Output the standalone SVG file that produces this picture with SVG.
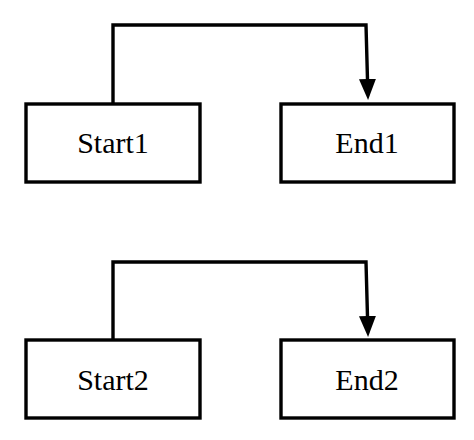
<svg xmlns="http://www.w3.org/2000/svg" width="474" height="440" viewBox="0 0 474 440">
<defs>
<marker id="arr" markerWidth="21" markerHeight="17" refX="1" refY="8.5" viewBox="0 0 21 17" markerUnits="userSpaceOnUse" orient="auto">
<path d="M0,0 L21,8.5 L0,17 Z" fill="#000"/>
</marker>
<style>
.box{fill:#fff;stroke:#000;stroke-width:3.4}
.lbl{font-family:"Liberation Serif","DejaVu Serif",serif;font-size:30px;fill:#000;text-anchor:middle}
.conn{fill:none;stroke:#000;stroke-width:3.4}
</style>
</defs>
<rect width="474" height="440" fill="#fff"/>
<g id="connectors">
<path class="conn" d="M113,104 L113,25 L366,25 L367.5,80" marker-end="url(#arr)"/>
<path class="conn" d="M113,340 L113,262 L366,262 L367.5,317" marker-end="url(#arr)"/>
</g>
<g id="start1"><rect class="box" x="26" y="104" width="174" height="78"/><text class="lbl" x="113" y="153">Start1</text></g>
<g id="end1"><rect class="box" x="281" y="104" width="173" height="78"/><text class="lbl" x="367" y="153">End1</text></g>
<g id="start2"><rect class="box" x="26" y="340" width="174" height="78"/><text class="lbl" x="113" y="390">Start2</text></g>
<g id="end2"><rect class="box" x="281" y="340" width="173" height="78"/><text class="lbl" x="367" y="390">End2</text></g>
</svg>
